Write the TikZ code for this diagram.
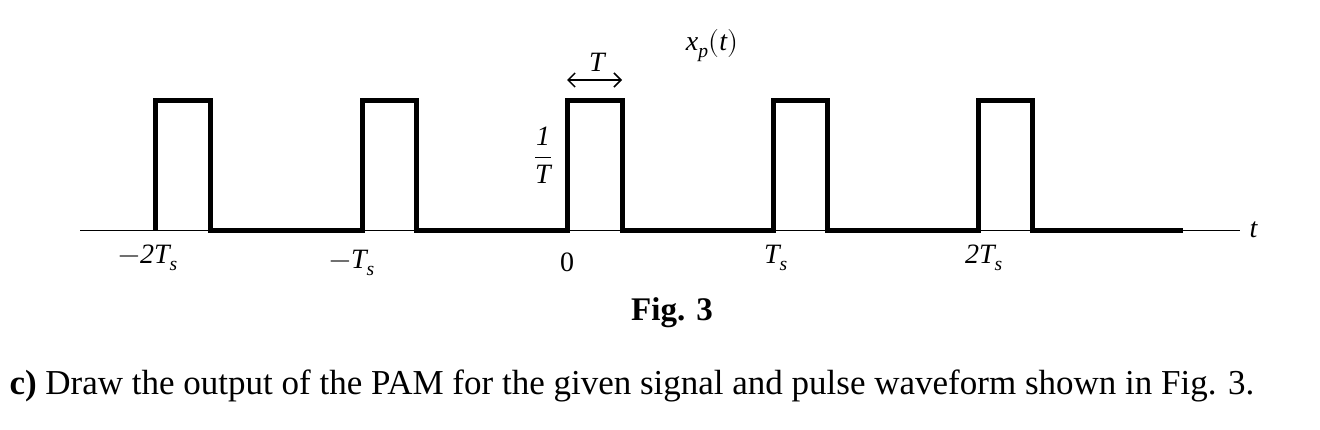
\documentclass[tikz,border=0pt]{standalone}
\usepackage{fontspec}
\setmainfont{Liberation Serif}
\usepackage{unicode-math}
\setmathfont{Latin Modern Math}
\setmathfont[range={it/{latin,Latin},up/{num}}]{Liberation Serif Italic}
\usetikzlibrary{arrows.meta}
\begin{document}
\begin{tikzpicture}[x=1pt,y=-1pt,
  sig/.style={line width=5pt,line join=miter},
  lbl/.style={font=\fontsize{28}{32}\selectfont}]
\useasboundingbox (0,0) rectangle (1320,429);
\coordinate (a0) at (80,230);
\coordinate (a1) at (1240,230);
\draw[line width=1pt] (a0) -- (a1);
\node[lbl,anchor=west] (t) at (1246,230) {$t$};
\draw[sig] (155,230) -- (155,100) -- (210,100) -- (210,230) -- (362,230) -- (362,100) -- (416,100) -- (416,230)
 -- (567,230) -- (567,100) -- (622,100) -- (622,230) -- (773,230) -- (773,100) -- (827,100) -- (827,230)
 -- (978,230) -- (978,100) -- (1032,100) -- (1032,230) -- (1183,230);
\node[lbl] (l1) at (148,258) {$-2T_s$};
\node[lbl] (l2) at (352,263) {$-T_s$};
\node[lbl] (l3) at (567,262) {0};
\node[lbl] (l4) at (776,258) {$T_s$};
\node[lbl] (l5) at (984,258) {$2T_s$};
\node[lbl] (amp) at (543,155) {$\dfrac{1}{T}$};
\coordinate (p0) at (567,80);
\coordinate (p1) at (622,80);
\draw[{Straight Barb[length=7pt,width=14pt]}-{Straight Barb[length=7pt,width=14pt]},line width=1.5pt] (p0) -- (p1);
\node[lbl] (tw) at (597,62) {$T$};
\node[lbl] (xp) at (712,46) {$x_p(t)$};
\node[font=\fontsize{33}{38}\selectfont\bfseries] (fig) at (672,313) {Fig. 3};
\node[font=\fontsize{35}{40}\selectfont,anchor=west] (cap) at (6,386) {\textbf{c)} Draw the output of the PAM for the given signal and pulse waveform shown in Fig. 3.};
\end{tikzpicture}
\end{document}
